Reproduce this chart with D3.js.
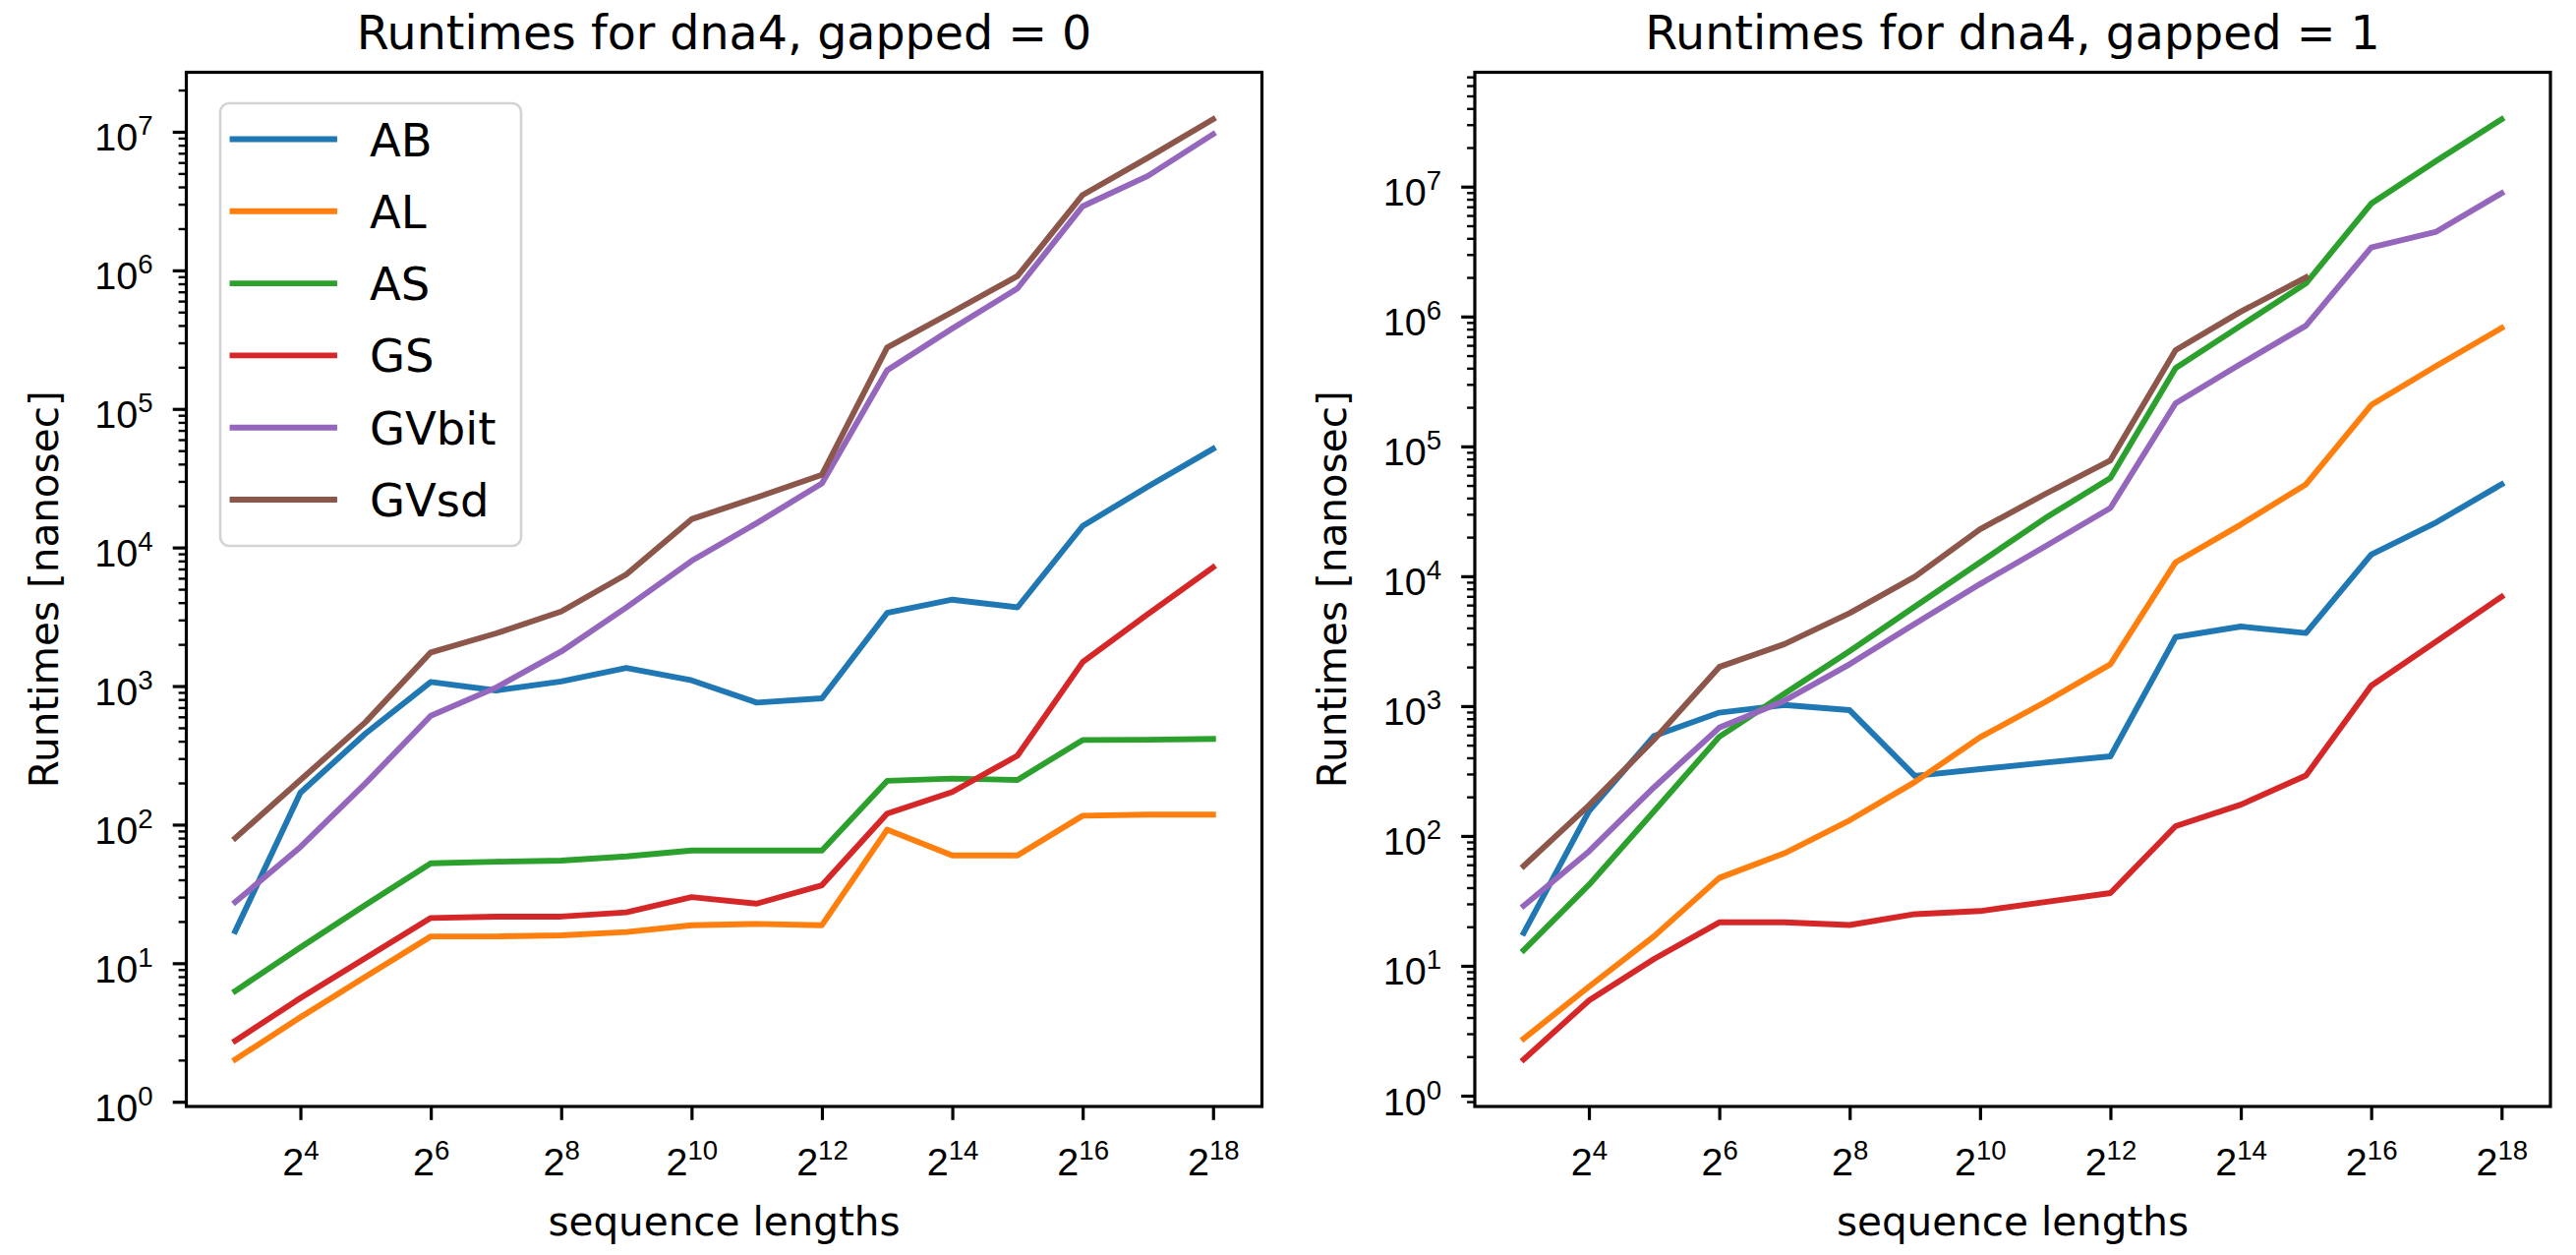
<!DOCTYPE html>
<html>
<head>
<meta charset="utf-8">
<script src="https://cdn.jsdelivr.net/npm/d3@7"></script>
<style>
body { margin: 0; background: #fff; }
svg { display: block; font-family: 'DejaVu Sans', sans-serif; }
</style>
</head>
<body>
<svg id="chart" width="2620" height="1276"></svg>
<script>
'use strict'

// sequence lengths 2^3 .. 2^18
const seqLengths = [8, 16, 32, 64, 128, 256, 512, 1024, 2048, 4096, 8192, 16384, 32768, 65536, 131072, 262144]
const xTickExps = [4, 6, 8, 10, 12, 14, 16, 18]
const algNames = ['AB', 'AL', 'AS', 'GS', 'GVbit', 'GVsd']
const algColors = ['#1f77b4', '#ff7f0e', '#2ca02c', '#d62728', '#9467bd', '#8c564b']

// gapped = 0
const abGap0 = [17, 170, 455, 1070, 930, 1080, 1350, 1100, 760, 815, 3370, 4200, 3700, 14300, 27500, 51500]
const alGap0 = [2.02, 4.07, 8.0, 15.6, 15.6, 15.9, 16.8, 18.8, 19.2, 18.8, 92, 60, 60, 116, 118, 118]
const asGap0 = [6.3, 13, 26.4, 52.6, 54, 55, 59, 65, 65, 65, 207, 215, 210, 408, 410, 415]
const gsGap0 = [2.76, 5.6, 10.9, 21.2, 21.7, 21.7, 23.3, 30, 26.9, 36.5, 120, 172, 315, 1490, 3300, 7200]
const gvbitGap0 = [27.6, 69, 199, 610, 975, 1775, 3690, 8000, 15000, 29000, 190000, 380000, 740000, 2.9e6, 4.8e6, 9.6e6]
const gvsdGap0 = [80, 210, 550, 1750, 2400, 3450, 6400, 16000, 23000, 33500, 277000, 500000, 910000, 3.5e6, 6.5e6, 1.23e7]

// gapped = 1
const abGap1 = [17.9, 155, 590, 890, 1020, 930, 290, 327, 367, 410, 3400, 4100, 3650, 14700, 26000, 51000]
const alGap1 = [2.75, 6.9, 16.9, 47.5, 73.6, 132, 260, 575, 1075, 2100, 12800, 25000, 51000, 208000, 417000, 815000]
const asGap1 = [13.2, 42, 155, 580, 1245, 2650, 5840, 12800, 28000, 57000, 400000, 850000, 1.8e6, 7.4e6, 1.58e7, 3.3e7]
const gsGap1 = [1.9, 5.4, 11.3, 21.6, 21.6, 20.6, 25, 26.4, 31, 36.3, 119, 174, 292, 1435, 3150, 6950]
const gvbitGap1 = [29, 76, 237, 682, 1100, 2100, 4300, 8700, 17000, 33500, 215000, 431000, 850000, 3.4e6, 4.5e6, 8.9e6]
const gvsdGap1 = [58.7, 172, 552, 2000, 3000, 5200, 9900, 23000, 43000, 78000, 550000, 1.09e6, 2.0e6]

const panels = [
	{title: 'Runtimes for dna4, gapped = 0', left: 189.5, legend: true,
		series: [abGap0, alGap0, asGap0, gsGap0, gvbitGap0, gvsdGap0]},
	{title: 'Runtimes for dna4, gapped = 1', left: 1500, legend: false,
		series: [abGap1, alGap1, asGap1, gsGap1, gvbitGap1, gvsdGap1]}
]

const props = {
	top: 73.5,
	width: 1094,
	height: 1051.5,
	tickFont: 39.5,
	supFont: 27.6,
	labelFont: 40.5,
	titleFont: 47.5,
	legendFont: 46.5,
	lineWidth: 5.9
}

const svg = d3.select('#chart')

// matplotlib style 5% margin in log space
function logDomain(values, base) {
	const lo = Math.log(d3.min(values)) / Math.log(base)
	const hi = Math.log(d3.max(values)) / Math.log(base)
	const pad = (hi - lo) * 0.05
	return [Math.pow(base, lo - pad), Math.pow(base, hi + pad)]
}

function powerLabel(sel, base, exp) {
	sel.text(null)
	sel.append('tspan').text(base)
	sel.append('tspan')
		.attr('dy', -16)
		.style('font-size', props.supFont + 'px')
		.text(exp)
}

function drawPanel(p) {
	const g = svg.append('g')
		.attr('transform', 'translate(' + p.left + ',' + props.top + ')')

	const x = d3.scaleLog().base(2)
		.domain(logDomain(seqLengths, 2))
		.range([0, props.width])

	const y = d3.scaleLog()
		.domain(logDomain(p.series.flat(), 10))
		.range([props.height, 0])

	const [y0, y1] = y.domain()
	const majors = []
	const minors = []
	for (let k = Math.floor(Math.log10(y0)); k <= Math.ceil(Math.log10(y1)); ++k) {
		const v = Math.pow(10, k)
		if (v >= y0 && v <= y1) majors.push(v)
		for (let j = 2; j < 10; ++j) {
			const m = j * v
			if (m >= y0 && m <= y1) minors.push(m)
		}
	}

	// minor y ticks
	const yMinor = g.append('g')
		.call(d3.axisLeft(y).tickValues(minors).tickSize(7.9).tickFormat(''))
	yMinor.select('.domain').remove()
	yMinor.selectAll('line').attr('stroke', '#000').attr('stroke-width', 2.4)

	// major y ticks
	const yAxis = g.append('g')
		.call(d3.axisLeft(y).tickValues(majors).tickSize(13.8))
	yAxis.select('.domain').remove()
	yAxis.selectAll('line').attr('stroke', '#000').attr('stroke-width', 3.2)
	yAxis.selectAll('text')
		.attr('x', -34)
		.attr('dy', 19)
		.attr('fill', '#000')
		.style('font-size', props.tickFont + 'px')
		.each(function(d) { powerLabel(d3.select(this), '10', Math.round(Math.log10(d))) })

	// x ticks
	const xAxis = g.append('g')
		.attr('transform', 'translate(0,' + props.height + ')')
		.call(d3.axisBottom(x).tickValues(xTickExps.map(e => Math.pow(2, e))).tickSize(13.8))
	xAxis.select('.domain').remove()
	xAxis.selectAll('line').attr('stroke', '#000').attr('stroke-width', 3.2)
	xAxis.selectAll('text')
		.attr('y', 70)
		.attr('dy', 0)
		.attr('fill', '#000')
		.style('font-size', props.tickFont + 'px')
		.each(function(d) { powerLabel(d3.select(this), '2', Math.round(Math.log2(d))) })

	// lines
	const line = d3.line()
		.x((d, i) => x(seqLengths[i]))
		.y(d => y(d))

	g.append('g').selectAll('path')
		.data(p.series)
		.enter()
		.append('path')
		.attr('d', d => line(d))
		.attr('fill', 'none')
		.attr('stroke', (d, i) => algColors[i])
		.attr('stroke-width', props.lineWidth)
		.attr('stroke-linejoin', 'round')
		.attr('stroke-linecap', 'square')

	// frame
	g.append('rect')
		.attr('width', props.width)
		.attr('height', props.height)
		.attr('fill', 'none')
		.attr('stroke', '#000')
		.attr('stroke-width', 3.2)

	// title and axis labels
	g.append('text')
		.attr('x', props.width / 2)
		.attr('y', 50 - props.top)
		.attr('text-anchor', 'middle')
		.style('font-size', props.titleFont + 'px')
		.text(p.title)

	g.append('text')
		.attr('x', props.width / 2)
		.attr('y', 1256 - props.top)
		.attr('text-anchor', 'middle')
		.style('font-size', props.labelFont + 'px')
		.text('sequence lengths')

	g.append('text')
		.attr('transform', 'translate(-131,' + (props.height / 2) + ') rotate(-90)')
		.attr('text-anchor', 'middle')
		.style('font-size', props.labelFont + 'px')
		.text('Runtimes [nanosec]')

	if (p.legend) {
		const leg = g.append('g').attr('transform', 'translate(34.5,31.5)')
		leg.append('rect')
			.attr('width', 306)
			.attr('height', 450)
			.attr('rx', 9)
			.attr('fill', '#fff')
			.attr('fill-opacity', 0.8)
			.attr('stroke', '#d3d3d3')
			.attr('stroke-width', 2.6)

		const item = leg.selectAll('.item')
			.data(algNames)
			.enter()
			.append('g')
			.attr('class', 'item')
			.attr('transform', (d, i) => 'translate(0,' + (36.5 + i * 73.3) + ')')

		item.append('line')
			.attr('x1', 12.5)
			.attr('x2', 116)
			.attr('stroke', (d, i) => algColors[i])
			.attr('stroke-width', props.lineWidth)
			.attr('stroke-linecap', 'square')

		item.append('text')
			.attr('x', 152)
			.attr('y', 17)
			.style('font-size', props.legendFont + 'px')
			.text(d => d)
	}
}

panels.forEach(drawPanel)
</script>
</body>
</html>
